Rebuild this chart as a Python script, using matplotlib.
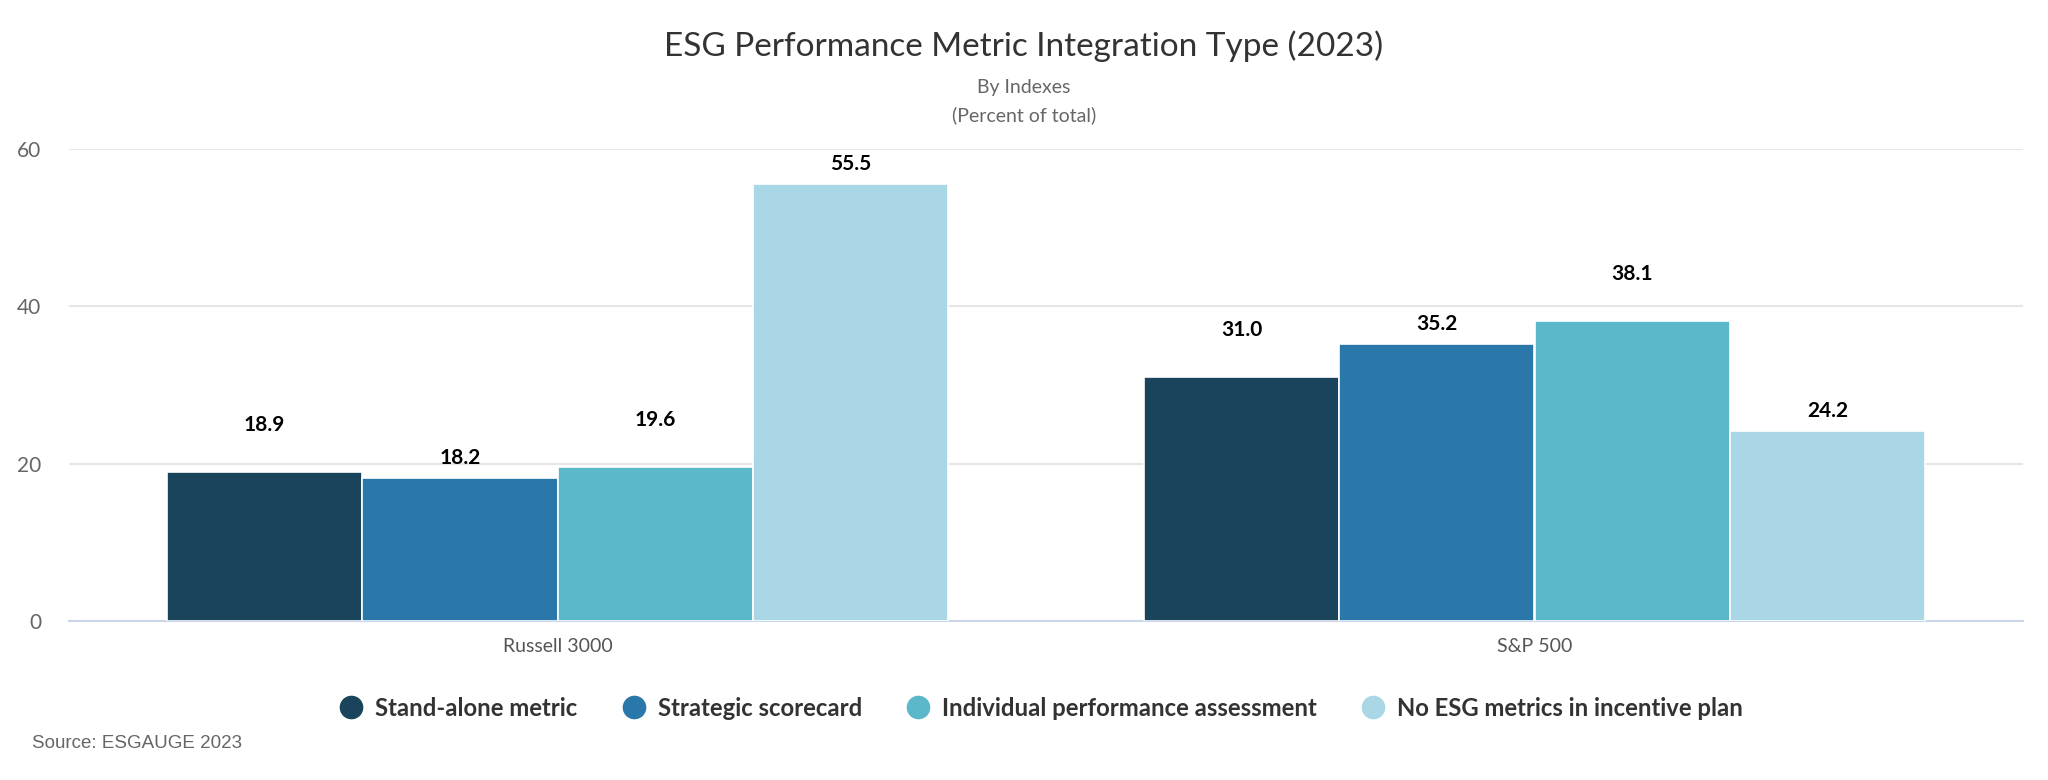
import matplotlib
matplotlib.use("Agg")
import matplotlib.pyplot as plt
from matplotlib.lines import Line2D
import numpy as np

# ---- data ----
categories = ["Russell 3000", "S&P 500"]
series_names = ["Stand-alone metric", "Strategic scorecard",
                "Individual performance assessment", "No ESG metrics in incentive plan"]
standalone = [18.9, 31.0]
scorecard = [18.2, 35.2]
individual = [19.6, 38.1]
no_esg = [55.5, 24.2]
y_ticks = [0, 20, 40, 60]

title = "ESG Performance Metric Integration Type (2023)"
subtitle1 = "By Indexes"
subtitle2 = "(Percent of total)"
source = "Source: ESGAUGE 2023"

# ---- style ----
colors = ["#19445c", "#2a78a9", "#5bb8cb", "#a9d7e5"]
label_offsets_px = [47, 20, 47, 20]  # label centre above bar top, per series

plt.rcParams['font.family'] = ['Lato', 'DejaVu Sans']

fig = plt.figure(figsize=(20.48, 7.8), dpi=100)
ax = fig.add_axes([69/2048, 1-621/780, (2023-69)/2048, (621-149)/780])

series = [standalone, scorecard, individual, no_esg]
x = np.arange(len(categories))
bw = 0.2
for i, (vals, col) in enumerate(zip(series, colors)):
    xs = x + (i - 1.5) * bw
    ax.bar(xs, vals, width=bw, color=col, edgecolor="white", linewidth=1.2, zorder=3)
    for xi, v in zip(xs, vals):
        ax.annotate(f"{v:.1f}", (xi, v), xytext=(0, label_offsets_px[i]*0.72),
                    textcoords="offset points", ha="center", va="center",
                    fontsize=15, fontweight="bold", color="black", zorder=4)

ax.set_xlim(-0.5, 1.5)
ax.set_ylim(0, 60)
ax.set_yticks(y_ticks)
ax.set_yticklabels([str(t) for t in y_ticks])
ax.set_xticks(x)
ax.set_xticklabels(categories)
ax.grid(axis="y", color="#e6e6e6", linewidth=1.5, zorder=0)
ax.set_axisbelow(True)
for s in ["top", "right", "left"]:
    ax.spines[s].set_visible(False)
ax.spines["bottom"].set_color("#ccd6eb")
ax.spines["bottom"].set_linewidth(1.5)
ax.spines["bottom"].set_zorder(2)
ax.tick_params(axis="y", length=0, pad=20, labelsize=15, labelcolor="#666666")
ax.tick_params(axis="x", length=0, pad=12, labelsize=14, labelcolor="#555555")

fig.text(0.5, 1-46/780, title, ha="center", va="center", fontsize=24, color="#333333")
fig.text(0.5, 1-88/780, subtitle1, ha="center", va="center", fontsize=14, color="#666666")
fig.text(0.5, 1-115/780, subtitle2, ha="center", va="center", fontsize=14, color="#666666")
fig.text(32/2048, 1-743/780, source, ha="left", va="center", fontsize=13.5,
         color="#666666", family=["Liberation Sans", "DejaVu Sans"])

handles = [Line2D([0], [0], marker="o", linestyle="none", markersize=16,
                  markerfacecolor=c, markeredgecolor=c) for c in colors]
leg = fig.legend(handles, series_names, loc="center", bbox_to_anchor=(1041/2048, 1-708/780),
                 ncol=4, frameon=False, handlelength=1.0, handletextpad=0.5,
                 columnspacing=1.85, prop={"size": 17.2, "weight": "bold"})
for t in leg.get_texts():
    t.set_color("#333333")

fig.savefig("out.png", dpi=100, facecolor="white")
